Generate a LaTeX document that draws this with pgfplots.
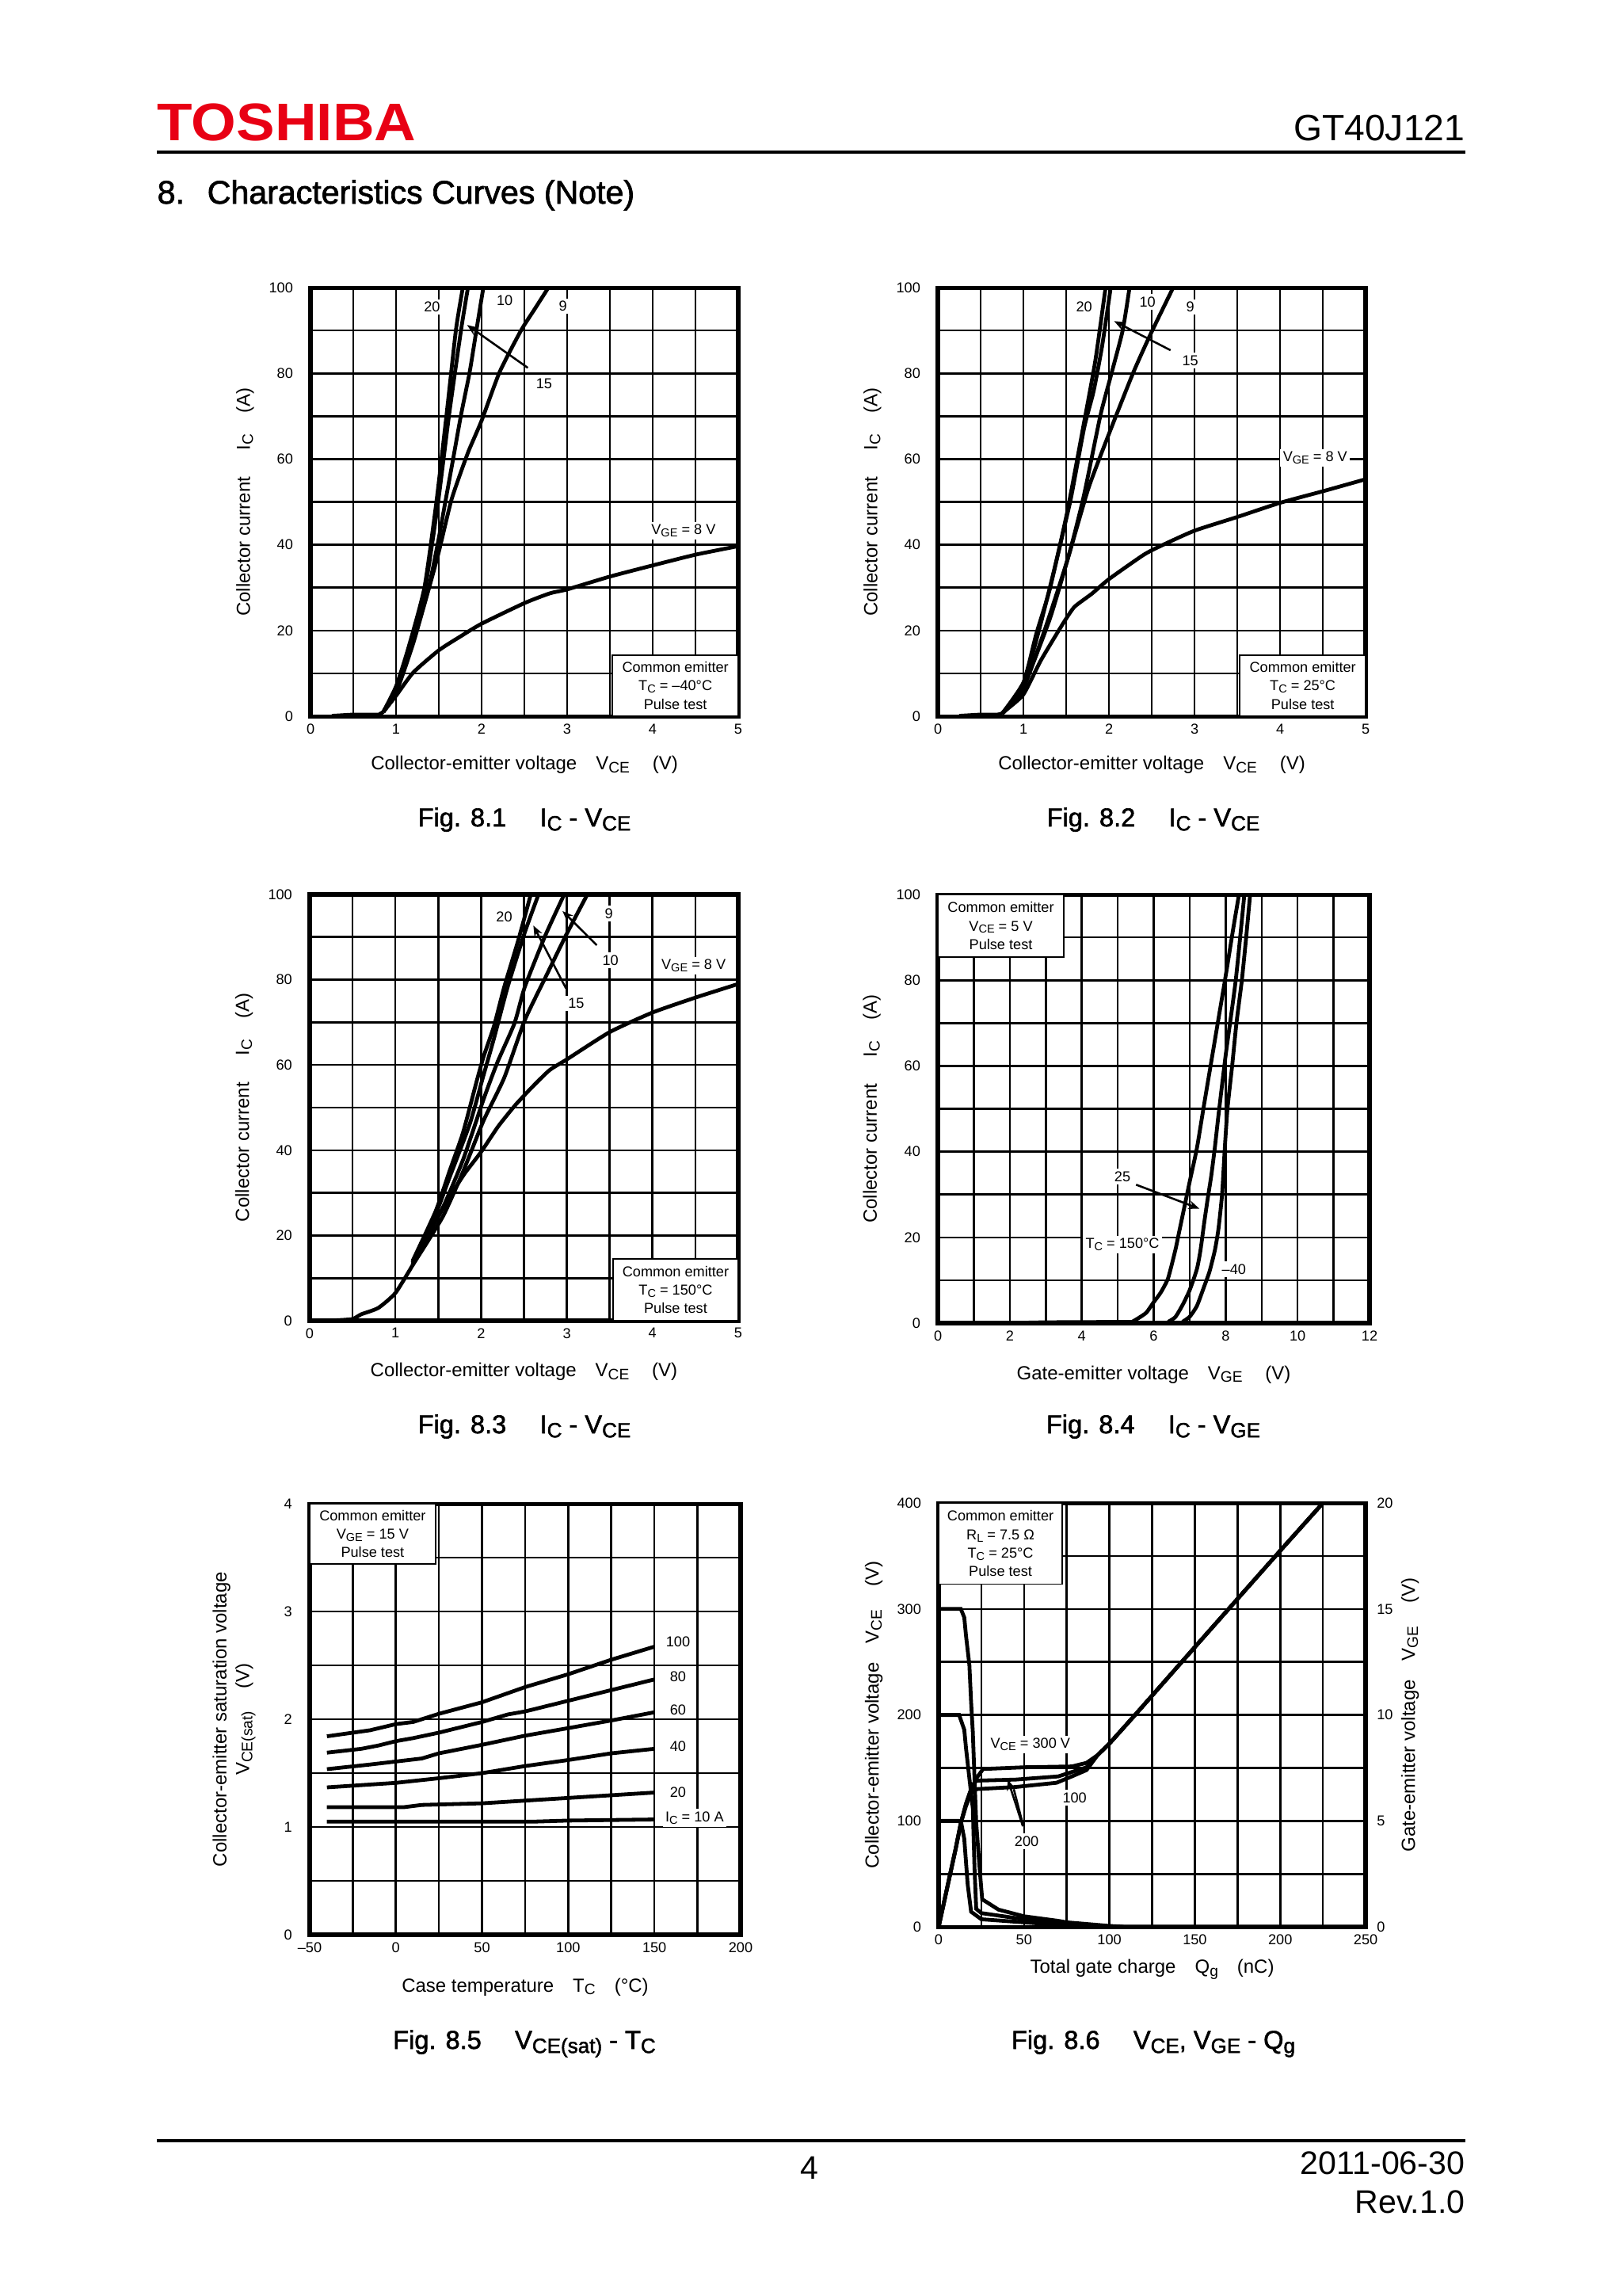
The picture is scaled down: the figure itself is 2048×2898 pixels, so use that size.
\documentclass[border=0pt]{standalone}
\usepackage{fontspec}
\setmainfont{Liberation Sans}
\newfontfamily\semibold[FakeBold=1.8]{Liberation Sans}
\usepackage{graphicx}
\usepackage{pgfplots}
\pgfplotsset{compat=1.18}
\usetikzlibrary{arrows.meta}

\definecolor{toshibared}{RGB}{232,0,20}

\newcommand\tickfont{\fontsize{5.3}{6.3}\selectfont}
\newcommand\notefont{\fontsize{5.3}{6.8}\selectfont}
\newcommand\labelfont{\fontsize{7}{8.4}\selectfont}
\newcommand\capfont{\semibold\fontsize{9.5}{11}\selectfont}
\newcommand\sub[1]{\raisebox{-0.3ex}{\scalebox{0.8}{#1}}}

\tikzset{
  note/.style={font=\notefont, fill=white, inner sep=0.35mm},
  ptr/.style={line width=0.75pt, -{Stealth[length=1.4mm, width=1.1mm]}},
  curve/.style={black, mark=none, line width=1.4pt, smooth, tension=0.35},
  trace/.style={black, mark=none, line width=1.4pt, sharp plot},
}

\pgfplotsset{
  sheet/.style={
    scale only axis,
    anchor=south west,
    axis line style={line width=1.5pt},
    grid=both,
    major grid style={line width=0.75pt, draw=black},
    minor grid style={line width=0.75pt, draw=black},
    major tick length=0pt,
    minor tick length=0pt,
    xticklabel style={font=\tickfont, inner sep=0pt, anchor=north, yshift=-0.9mm},
    yticklabel style={font=\tickfont, inner sep=0pt, anchor=east, xshift=-2.2mm},
    every axis x label/.style={at={(axis description cs:0.5,-0.113)}, anchor=center, font=\labelfont},
    every axis y label/.style={at={(axis description cs:-0.153,0.5)}, rotate=90, anchor=center, font=\labelfont},
    cycle list={{black, mark=none, line width=1.4pt}},
  },
  icvce/.style={
    sheet,
    xmin=0, xmax=5, ymin=0, ymax=100,
    xtick={0,1,2,3,4,5}, xticklabels={0,1,2,3,4,5}, minor x tick num=1,
    ytick={0,20,40,60,80,100}, yticklabels={0,20,40,60,80,100}, minor y tick num=1,
    xlabel={Collector-emitter voltage\hspace{1em}V\sub{CE}\hspace{1.2em}(V)},
    ylabel={Collector current\hspace{1.4em}I\sub{C}\hspace{1.1em}(A)},
  },
}

\begin{document}
\begin{tikzpicture}

% ---------- page furniture (coordinates in 1/2048 of the page width) ----------
\begin{scope}[x=0.10254mm, y=-0.10254mm]
  \fill[white] (0,0) rectangle (2048,2898);
  \node[anchor=base west, inner sep=0, text=toshibared,
        font=\bfseries\fontsize{19.5}{22}\selectfont] at (198,177) {\scalebox{1.09}[1]{TOSHIBA}};
  \node[anchor=base east, inner sep=0, font=\fontsize{13.5}{16}\selectfont] at (1850,177) {GT40J121};
  \draw[line width=0.35mm] (198,192) -- (1850,192);
  \node[anchor=base west, inner sep=0, font=\semibold\fontsize{12}{14}\selectfont] at (198,257)
       {8.\hspace{0.7em}Characteristics Curves (Note)};

  \node[anchor=base, inner sep=0, font=\capfont] at (662,1043) {Fig. 8.1\hspace{1.3em}I\sub{C} - V\sub{CE}};
  \node[anchor=base, inner sep=0, font=\capfont] at (1456,1043) {Fig. 8.2\hspace{1.3em}I\sub{C} - V\sub{CE}};
  \node[anchor=base, inner sep=0, font=\capfont] at (662,1809) {Fig. 8.3\hspace{1.3em}I\sub{C} - V\sub{CE}};
  \node[anchor=base, inner sep=0, font=\capfont] at (1456,1809) {Fig. 8.4\hspace{1.3em}I\sub{C} - V\sub{GE}};
  \node[anchor=base, inner sep=0, font=\capfont] at (662,2586) {Fig. 8.5\hspace{1.3em}V\sub{CE(sat)} - T\sub{C}};
  \node[anchor=base, inner sep=0, font=\capfont] at (1456,2586) {Fig. 8.6\hspace{1.3em}V\sub{CE}, V\sub{GE} - Q\sub{g}};

  \draw[line width=0.35mm] (198,2702) -- (1850,2702);
  \node[anchor=base, inner sep=0, font=\fontsize{12}{14}\selectfont] at (1022,2750) {4};
  \node[anchor=base east, inner sep=0, font=\fontsize{12}{14}\selectfont] at (1850,2744) {2011-06-30};
  \node[anchor=base east, inner sep=0, font=\fontsize{12}{14}\selectfont] at (1850,2793) {Rev.1.0};
\end{scope}

% ---------- Fig. 8.1  IC - VCE, Tc = -40 C ----------
\begin{axis}[icvce, at={(40.20mm,-92.70mm)}, width=55.37mm, height=55.47mm]
  \addplot[trace] coordinates {(0.25,0.1) (0.5,0.4) (0.8,0.4) (0.85,1)};
  % VGE = 8 V
  \addplot[curve] coordinates {(0.85,1) (1.0,4.8) (1.2,10.2) (1.5,15.4) (1.75,18.6) (2.0,21.6)
    (2.5,26.4) (2.8,28.7) (3.0,29.6) (3.5,32.6) (4.0,35.2) (4.5,37.7) (5.0,39.7)};
  % VGE = 9 V
  \addplot[curve] coordinates {(0.85,1) (1.0,5.5) (1.2,17) (1.4,31) (1.5,38.4) (1.64,50) (1.74,56)
    (1.85,62) (2.0,69) (2.21,80.3) (2.46,90) (2.62,95) (2.78,100)};
  % VGE = 10 V
  \addplot[curve] coordinates {(0.85,1) (1.0,5.8) (1.22,19.3) (1.38,29.9) (1.49,40.6) (1.58,50.5)
    (1.67,60.4) (1.76,70.4) (1.86,80.3) (1.94,90.2) (2.02,100)};
  % VGE = 15 V
  \addplot[curve] coordinates {(0.85,1) (1.0,6.5) (1.16,15.7) (1.34,29.9) (1.49,49.8) (1.62,70.4)
    (1.76,90.2) (1.84,100)};
  % VGE = 20 V
  \addplot[curve] coordinates {(0.85,1) (1.0,7) (1.14,15.7) (1.33,29.9) (1.47,49.8) (1.59,70.4)
    (1.70,90.2) (1.78,100)};
  \node[note] at (axis cs:1.42,95.5) {20};
  \node[note] at (axis cs:2.27,97) {10};
  \node[note] at (axis cs:2.95,95.7) {9};
  \node[note] at (axis cs:2.73,77.6) {15};
  \draw[ptr] (axis cs:2.54,81.3) -- (axis cs:1.83,91.3);
  \node[note] at (axis cs:4.36,43.3) {V\sub{GE} = 8 V};
  \draw[line width=0.5pt, fill=white] (axis cs:3.53,0) rectangle (axis cs:5,14.3);
  \node[font=\notefont, align=center] at (axis cs:4.265,7.15) {Common emitter\\T\sub{C} = –40°C\\Pulse test};
\end{axis}

% ---------- Fig. 8.2  IC - VCE, Tc = 25 C ----------
\begin{axis}[icvce, at={(121.41mm,-92.70mm)}, width=55.37mm, height=55.47mm]
  \addplot[trace] coordinates {(0.25,0.1) (0.5,0.4) (0.7,0.4) (0.75,0.6)};
  \addplot[curve] coordinates {(0.75,0.6) (0.8,1.5) (1.0,5.1) (1.2,12.9) (1.4,19.6) (1.5,22.8) (1.6,25.6)
    (1.8,28.6) (2.0,32) (2.4,37.6) (2.6,39.7) (3.0,43.3) (3.5,46.5) (4.0,49.8) (4.5,52.5) (5.0,55.3)};
  \addplot[curve] coordinates {(0.75,0.6) (1.0,6.5) (1.27,21.4) (1.51,36.2) (1.76,53.2) (2.0,65.9)
    (2.28,80) (2.48,88.9) (2.75,100)};
  \addplot[curve] coordinates {(0.75,0.6) (1.0,7) (1.31,22.8) (1.55,39) (1.71,51.8) (1.90,70.2)
    (2.02,79.3) (2.16,90) (2.24,100)};
  \addplot[curve] coordinates {(0.75,0.6) (1.0,7.5) (1.19,20.7) (1.35,33.4) (1.55,50.4) (1.71,67.3)
    (1.82,75.8) (1.92,86.4) (2.02,100)};
  \addplot[curve] coordinates {(0.75,0.6) (1.0,7.9) (1.15,19.2) (1.31,29.8) (1.51,47.5) (1.71,68.7)
    (1.84,82.9) (1.96,100)};
  \node[note] at (axis cs:1.71,95.5) {20};
  \node[note] at (axis cs:2.45,96.7) {10};
  \node[note] at (axis cs:2.95,95.5) {9};
  \node[note] at (axis cs:2.95,83) {15};
  \draw[ptr] (axis cs:2.72,85.4) -- (axis cs:2.06,92.2);
  \node[note] at (axis cs:4.41,60.3) {V\sub{GE} = 8 V};
  \draw[line width=0.5pt, fill=white] (axis cs:3.53,0) rectangle (axis cs:5,14.3);
  \node[font=\notefont, align=center] at (axis cs:4.265,7.15) {Common emitter\\T\sub{C} = 25°C\\Pulse test};
\end{axis}

% ---------- Fig. 8.3  IC - VCE, Tc = 150 C ----------
\begin{axis}[icvce, at={(40.09mm,-170.93mm)}, width=55.47mm, height=55.17mm,
  every axis x label/.style={at={(axis description cs:0.5,-0.12)}, anchor=center, font=\labelfont}]
  \addplot[curve] coordinates {(0.3,0.1) (0.5,0.4) (0.6,1.5) (0.8,3) (1.0,6.5) (1.2,13)};
  \addplot[curve] coordinates {(1.2,13) (1.4,20.8) (1.6,27.9) (1.8,34.3) (2.0,39.6) (2.2,45.6)
    (2.4,50.6) (2.6,54.9) (2.8,58.8) (3.0,61.3) (3.5,67.7) (4.0,72.3) (4.5,75.8) (5.0,79)};
  \addplot[curve] coordinates {(1.2,13) (1.55,24.3) (1.79,35) (2.03,47) (2.27,57) (2.51,70.5)
    (2.75,80.5) (2.99,90.4) (3.24,100)};
  \addplot[curve] coordinates {(1.2,13.3) (1.55,26.4) (1.79,37.8) (2.03,52) (2.19,60.6) (2.39,69.8)
    (2.51,78.3) (2.75,90.4) (2.97,100)};
  \addplot[curve] coordinates {(1.2,13.6) (1.47,25) (1.63,33.5) (1.87,46.3) (2.03,57.7) (2.15,66.2)
    (2.31,78.3) (2.51,91.1) (2.67,100)};
  \addplot[curve] coordinates {(1.2,14) (1.47,25.7) (1.63,35) (1.79,44.2) (1.95,56.3) (2.03,62)
    (2.15,69.1) (2.27,78.3) (2.43,89) (2.58,100)};
  \node[note] at (axis cs:2.27,94.8) {20};
  \node[note] at (axis cs:3.49,95.5) {9};
  \node[note] at (axis cs:3.51,84.6) {10};
  \node[note] at (axis cs:3.11,74.4) {15};
  \draw[ptr] (axis cs:3.35,88.1) -- (axis cs:2.95,96.1);
  \draw[ptr] (axis cs:2.99,78) -- (axis cs:2.61,92.7);
  \node[note] at (axis cs:4.48,83.3) {V\sub{GE} = 8 V};
  \draw[line width=0.5pt, fill=white] (axis cs:3.54,0) rectangle (axis cs:5,14.5);
  \node[font=\notefont, align=center] at (axis cs:4.27,7.25) {Common emitter\\T\sub{C} = 150°C\\Pulse test};
\end{axis}

% ---------- Fig. 8.4  IC - VGE ----------
\begin{axis}[sheet, at={(121.41mm,-171.24mm)}, width=55.88mm, height=55.47mm,
  xmin=0, xmax=12, ymin=0, ymax=100,
  xtick={0,2,4,6,8,10,12}, xticklabels={0,2,4,6,8,10,12}, minor x tick num=1,
  ytick={0,20,40,60,80,100}, yticklabels={0,20,40,60,80,100}, minor y tick num=1,
  every axis x label/.style={at={(axis description cs:0.5,-0.12)}, anchor=center, font=\labelfont},
  xlabel={Gate-emitter voltage\hspace{1em}V\sub{GE}\hspace{1.2em}(V)},
  ylabel={Collector current\hspace{1.4em}I\sub{C}\hspace{1.1em}(A)}]
  \addplot[trace] coordinates {(2.4,0.1) (3.0,0.2) (5.4,0.3)};
  % Tc = 150 C
  \addplot[curve] coordinates {(5.4,0.3) (5.6,1.3) (5.8,2.5) (6.0,4.9) (6.2,7.2) (6.4,10.5) (6.6,17)
    (6.7,21) (6.85,27) (7.0,33) (7.2,40.8) (7.4,51) (7.6,61) (7.8,71) (8.0,81) (8.2,91.5) (8.37,100)};
  % Tc = 25 C
  \addplot[curve] coordinates {(6.4,0.3) (6.6,1.4) (6.8,4.2) (7.0,7.7) (7.2,12.6) (7.3,17) (7.4,23.2)
    (7.5,29) (7.6,34.4) (7.7,41) (7.8,48.5) (8.0,62.5) (8.28,80) (8.52,100)};
  % Tc = -40 C
  \addplot[curve] coordinates {(6.8,0.3) (7.0,1.5) (7.2,4) (7.4,8.5) (7.55,12) (7.7,17) (7.8,22)
    (7.9,30) (7.97,40) (8.05,50) (8.18,60) (8.3,70) (8.45,80) (8.57,90) (8.68,100)};
  \node[note] at (axis cs:5.13,34.2) {25};
  \draw[ptr] (axis cs:5.51,32.3) -- (axis cs:7.27,26.7);
  \node[note] at (axis cs:5.13,18.3) {T\sub{C} = 150°C};
  \node[note] at (axis cs:8.23,12.6) {–40};
  \draw[line width=0.5pt, fill=white] (axis cs:0,85.4) rectangle (axis cs:3.5,100);
  \node[font=\notefont, align=center] at (axis cs:1.75,92.7) {Common emitter\\V\sub{CE} = 5 V\\Pulse test};
\end{axis}

% ---------- Fig. 8.5  VCE(sat) - Tc ----------
\begin{axis}[sheet, at={(40.09mm,-250.40mm)}, width=55.78mm, height=55.78mm,
  xmin=-50, xmax=200, ymin=0, ymax=4,
  xtick={-50,0,50,100,150,200}, xticklabels={–50,0,50,100,150,200}, minor x tick num=1,
  ytick={0,1,2,3,4}, yticklabels={0,1,2,3,4}, minor y tick num=1,
  every axis x label/.style={at={(axis description cs:0.5,-0.121)}, anchor=center, font=\labelfont},
  every axis y label/.style={at={(axis description cs:-0.1755,0.5)}, rotate=90, anchor=center,
    font=\labelfont, align=center},
  xlabel={Case temperature\hspace{1em}T\sub{C}\hspace{1em}(°C)},
  ylabel={Collector-emitter saturation voltage\\V\sub{CE(sat)}\hspace{1.2em}(V)}]
  \addplot[trace] coordinates {(-40,1.05) (0,1.05) (50,1.05) (80,1.05) (100,1.06) (150,1.07)};
  \addplot[trace] coordinates {(-40,1.185) (5,1.185) (15,1.205) (50,1.22) (100,1.27) (150,1.32)};
  \addplot[trace] coordinates {(-40,1.368) (0,1.41) (25,1.453) (50,1.5) (75,1.566) (100,1.622) (125,1.684) (150,1.726)};
  \addplot[trace] coordinates {(-40,1.537) (-15,1.58) (0,1.608) (15,1.636) (25,1.684) (50,1.763) (75,1.848)
    (100,1.918) (125,1.989) (150,2.065)};
  \addplot[trace] coordinates {(-40,1.69) (-20,1.726) (-10,1.757) (0,1.797) (10,1.825) (25,1.876) (50,1.975)
    (65,2.045) (75,2.073) (100,2.172) (125,2.271) (150,2.37)};
  \addplot[trace] coordinates {(-40,1.842) (-15,1.898) (0,1.955) (10,1.975) (25,2.051) (50,2.158) (75,2.299)
    (100,2.418) (125,2.553) (150,2.674)};
  \node[note] at (axis cs:163.7,2.716) {100};
  \node[note] at (axis cs:163.7,2.398) {80};
  \node[note] at (axis cs:163.7,2.088) {60};
  \node[note] at (axis cs:163.7,1.749) {40};
  \node[note] at (axis cs:163.7,1.32) {20};
  \node[note] at (axis cs:173.3,1.086) {I\sub{C} = 10 A};
  \draw[line width=0.5pt, fill=white] (axis cs:-50,3.44) rectangle (axis cs:23,4);
  \node[font=\notefont, align=center] at (axis cs:-13.5,3.72) {Common emitter\\V\sub{GE} = 15 V\\Pulse test};
\end{axis}

% ---------- Fig. 8.6  VCE, VGE - Qg ----------
\begin{axis}[sheet, at={(121.51mm,-249.38mm)}, width=55.27mm, height=54.86mm,
  xmin=0, xmax=250, ymin=0, ymax=400,
  xtick={0,50,100,150,200,250}, xticklabels={0,50,100,150,200,250}, minor x tick num=1,
  ytick={0,100,200,300,400}, yticklabels={0,100,200,300,400}, minor y tick num=1,
  every axis x label/.style={at={(axis description cs:0.5,-0.101)}, anchor=center, font=\labelfont},
  every axis y label/.style={at={(axis description cs:-0.152,0.5)}, rotate=90, anchor=center, font=\labelfont},
  xlabel={Total gate charge\hspace{1em}Q\sub{g}\hspace{1em}(nC)},
  ylabel={Collector-emitter voltage\hspace{1em}V\sub{CE}\hspace{1.2em}(V)}]
  % VCE = 300 V
  \addplot[trace] coordinates {(0,300) (13,300) (15,292) (16,275) (18,247) (19,212) (20,184) (21,140) (22,98)
    (24,55) (25.5,26) (28,23.5) (35,16.3) (50,10) (70,5.7) (75,4.3) (100,0.9) (110,0) (250,0)};
  % VCE = 200 V
  \addplot[trace] coordinates {(0,200) (12,200) (15,186) (16,169) (18,140) (20,112) (21,55) (22,17) (25,13)
    (50,7.2) (75,2.9) (100,0.6) (110,0) (250,0)};
  % VCE = 100 V
  \addplot[trace] coordinates {(0,100) (13,100) (15,83) (17,40) (19,14.3) (25,7.2) (50,4.3) (75,1.4) (85,0) (250,0)};
  \node[note] at (axis cs:53.7,172) {V\sub{CE} = 300 V};
  \node[note] at (axis cs:79.6,122) {100};
  \node[note] at (axis cs:51.5,81) {200};
  \draw[ptr] (axis cs:49.3,95) -- (axis cs:40.5,139);
  \draw[line width=0.75pt] (axis cs:49.6,95) -- (axis cs:44,130);
  \draw[line width=0.5pt, fill=white] (axis cs:0,323.4) rectangle (axis cs:72.4,400);
  \node[font=\notefont, align=center] at (axis cs:36.2,361.7)
    {Common emitter\\R\sub{L} = 7.5 Ω\\T\sub{C} = 25°C\\Pulse test};
\end{axis}
\begin{axis}[scale only axis, anchor=south west, at={(121.51mm,-249.38mm)}, width=55.27mm, height=54.86mm,
  xmin=0, xmax=250, ymin=0, ymax=20,
  axis x line=none, axis y line*=right,
  axis line style={line width=1.5pt},
  ytick={0,5,10,15,20}, yticklabels={0,5,10,15,20},
  major tick length=0pt,
  yticklabel style={font=\tickfont, inner sep=0pt, anchor=west, xshift=1.4mm},
  every axis y label/.style={at={(axis description cs:1.104,0.5)}, rotate=90, anchor=center, font=\labelfont},
  ylabel={Gate-emitter voltage\hspace{1em}V\sub{GE}\hspace{1.2em}(V)},
  cycle list={{black, mark=none, line width=1.4pt}}]
  % VGE at VCE = 100 V
  \addplot[trace] coordinates {(0,0) (10,3.7) (13,4.9) (16,5.7) (19,6.3) (22,6.5) (45,6.6) (69,6.8) (78,7.1)
    (86.6,7.4) (93,8.1) (100,8.65) (115,10) (150,13.2) (200,17.75) (225,20)};
  % VGE at VCE = 200 V
  \addplot[trace] coordinates {(0,0) (10,3.7) (13,4.9) (16,5.8) (19,6.5) (22,6.9) (45,6.95) (70,7.1)
    (86.6,7.53) (93,8.1) (100,8.65) (115,10) (150,13.2) (200,17.75) (225,20)};
  % VGE at VCE = 300 V
  \addplot[trace] coordinates {(0,0) (10,3.7) (13,4.9) (16,5.8) (19,6.5) (22,7.0) (26,7.45) (50,7.53) (78,7.57)
    (86.6,7.74) (93,8.1) (100,8.65) (115,10) (150,13.2) (200,17.75) (225,20)};
\end{axis}

\end{tikzpicture}
\end{document}
